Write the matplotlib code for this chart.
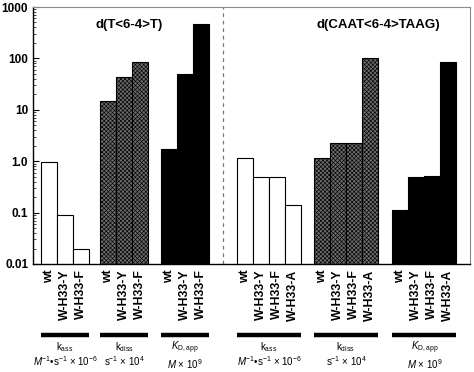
import matplotlib
matplotlib.use("Agg")
import matplotlib.pyplot as plt
import matplotlib.transforms as mtransforms
from matplotlib.lines import Line2D
import numpy as np

plt.rcParams['font.family'] = ['Liberation Sans', 'DejaVu Sans']
plt.rcParams['mathtext.fontset'] = 'custom'
plt.rcParams['mathtext.rm'] = 'Liberation Sans'
plt.rcParams['mathtext.it'] = 'Liberation Sans:italic'
plt.rcParams['mathtext.bf'] = 'Liberation Sans:bold'
plt.rcParams['hatch.linewidth'] = 0.45

# ---- data ----
left_title = 'd(T<6-4>T)'
right_title = 'd(CAAT<6-4>TAAG)'
left_labels = ['wt', 'W-H33-Y', 'W-H33-F']
left_kass = [0.95, 0.09, 0.019]
left_kdiss = [15, 44, 85]
left_KD = [1.7, 50, 460]
right_labels = ['wt', 'W-H33-Y', 'W-H33-F', 'W-H33-A']
right_kass = [1.15, 0.5, 0.49, 0.14]
right_kdiss = [1.15, 2.3, 2.3, 103]
right_KD = [0.112, 0.5, 0.52, 84]
yticks = [0.01, 0.1, 1, 10, 100, 1000]
ytick_labels = ['0.01', '0.1', '1.0', '10', '100', '1000']
group_name = [r'k$_{\rm ass}$', r'k$_{\rm diss}$', r'$K_{\rm D,app}$']
group_unit = [r'$M^{-1}$•s$^{-1}$ × 10$^{-6}$', r's$^{-1}$ × 10$^{4}$', r'$M$ × 10$^{9}$']

W, H = 474, 372
fig = plt.figure(figsize=(W / 100, H / 100), dpi=100)
ax = fig.add_axes([33 / W, 1 - 264 / H, (470 - 33) / W, (264 - 7) / H])
ax.set_yscale('log')

styles = [
    dict(facecolor='white', edgecolor='black', hatch=None),
    dict(facecolor='#6c6c6c', edgecolor='black', hatch='xxxxxxxx'),
    dict(facecolor='black', edgecolor='black', hatch=None),
]

left_starts = [0.5, 4.2, 8.0]
right_starts = [12.75, 17.55, 22.45]
xt, xl = [], []
groups = []
for starts, labels, series in [(left_starts, left_labels, [left_kass, left_kdiss, left_KD]),
                               (right_starts, right_labels, [right_kass, right_kdiss, right_KD])]:
    for gi, (s, vals) in enumerate(zip(starts, series)):
        xs = s + 0.5 + np.arange(len(vals))
        st = styles[gi]
        ax.bar(xs, vals, width=1.0, bottom=0.001, facecolor=st['facecolor'],
               edgecolor=st['edgecolor'], hatch=st['hatch'], linewidth=0.8)
        xt.extend(xs)
        xl.extend(labels)
        groups.append((s, s + len(vals), gi))

ax.set_xlim(0, 27.3)
ax.set_ylim(0.01, 1000)
ax.axvline(11.9, color='#777777', linestyle=(0, (3, 3)), linewidth=0.9)

ax.set_xticks(xt)
ax.set_xticklabels(xl, rotation=90, fontsize=8.8, fontweight='bold', va='top')
ax.tick_params(axis='x', length=0, pad=4)
ax.set_yticks(yticks)
ax.set_yticklabels(ytick_labels, fontsize=8.5, fontweight='bold')
ax.tick_params(axis='y', which='major', direction='in', length=4, width=0.8)
ax.tick_params(axis='y', which='minor', direction='in', length=2, width=0.5)

for sp in ['top', 'right']:
    ax.spines[sp].set_color('#8a8a8a')
for sp in ['left', 'bottom']:
    ax.spines[sp].set_color('black')
    ax.spines[sp].set_linewidth(1.0)

ax.text(6.0, 0.93, left_title, transform=mtransforms.blended_transform_factory(ax.transData, ax.transAxes),
        ha='center', va='center', fontsize=9.5, fontweight='bold')
ax.text(21.6, 0.93, right_title, transform=mtransforms.blended_transform_factory(ax.transData, ax.transAxes),
        ha='center', va='center', fontsize=9.5, fontweight='bold')

tr = mtransforms.blended_transform_factory(ax.transData, fig.transFigure)
for (a, b, gi) in groups:
    fig.add_artist(Line2D([a, b], [1 - 335 / H, 1 - 335 / H], transform=tr, color='black',
                          linewidth=3.2, solid_capstyle='butt'))
    c = (a + b) / 2
    fig.text(c, 1 - 340 / H, group_name[gi] + '\n' + group_unit[gi], transform=tr,
             ha='center', va='top', ma='center', fontsize=7.0, linespacing=1.05)

fig.savefig('out.png', dpi=100)
